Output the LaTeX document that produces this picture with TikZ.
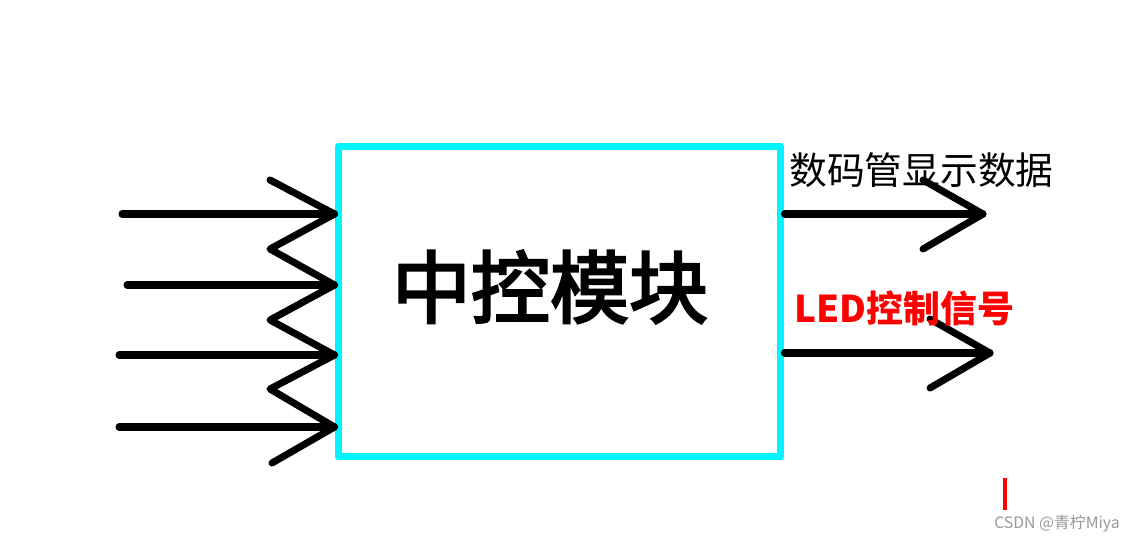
\documentclass[tikz,border=0pt]{standalone}
\usepackage{fontspec}
\newfontfamily\cjk{Noto Sans CJK SC}
\newfontfamily\cjkbold[FakeBold=3]{Noto Sans CJK SC}
\usetikzlibrary{positioning, calc}
\definecolor{boxcyan}{RGB}{0,245,255}
\tikzset{
    wire/.style = {line width=4pt, line cap=round, line join=round},
    ctrlbox/.style = {draw=boxcyan, line width=4pt, line join=round, minimum width=8.86cm, minimum height=6.22cm},
    sig/.style = {inner sep=0pt, font=\cjk\fontsize{21.5pt}{22pt}\selectfont}
}

\begin{document}
\begin{tikzpicture}[x=0.02cm, y=-0.02cm]
        \useasboundingbox (0,0) rectangle (1134,542);
        % central module
        \node[ctrlbox] (ctrl) at (559.5,301.5) {};
        \node[inner sep=0pt, font=\cjkbold\fontsize{45pt}{46pt}\selectfont] (title) at (550,287) {中控模块};

        % input lines and zigzag
        \coordinate (in1) at (122,214);
        \coordinate (in2) at (127,285);
        \coordinate (in3) at (119,355);
        \coordinate (in4) at (119,427);
        \foreach \i in {1,...,4}
            \draw[wire] (in\i) -- (in\i -| ctrl.west);
        \coordinate (zig0) at (270,180);
        \coordinate (zig1) at (270,249);
        \coordinate (zig2) at (270,320);
        \coordinate (zig3) at (270,389);
        \coordinate (zig4) at (272,463);
        \draw[wire] (zig0) -- (in1 -| ctrl.west) -- (zig1) -- (in2 -| ctrl.west) -- (zig2)
            -- (in3 -| ctrl.west) -- (zig3) -- (in4 -| ctrl.west) -- (zig4);

        % output arrows
        \coordinate (out1) at (983,214);
        \coordinate (out2) at (990,353);
        \foreach \i in {1,2} {
            \draw[wire] (out\i -| ctrl.east) -- (out\i);
            \draw[wire] ($(out\i)+(-60,-34)$) -- (out\i) -- ($(out\i)+(-60,35)$);
        }
        \node[sig, text=black] (seg) at (921.5,170) {数码管显示数据};
        \node[sig, text=red, font=\cjk\bfseries\fontsize{21pt}{22pt}\selectfont] (led) at (904.5,308) {LED控制信号};

        % cursor and watermark
        \coordinate (cur) at (1005,478);
        \draw[red, line width=2.8pt] (cur) -- ++(0,32);
        \node[inner sep=0pt, text=gray!80, font=\cjk\fontsize{9pt}{10pt}\selectfont] (wm) at (1057,524) {CSDN @青柠Miya};
    \end{tikzpicture}
\end{document}
